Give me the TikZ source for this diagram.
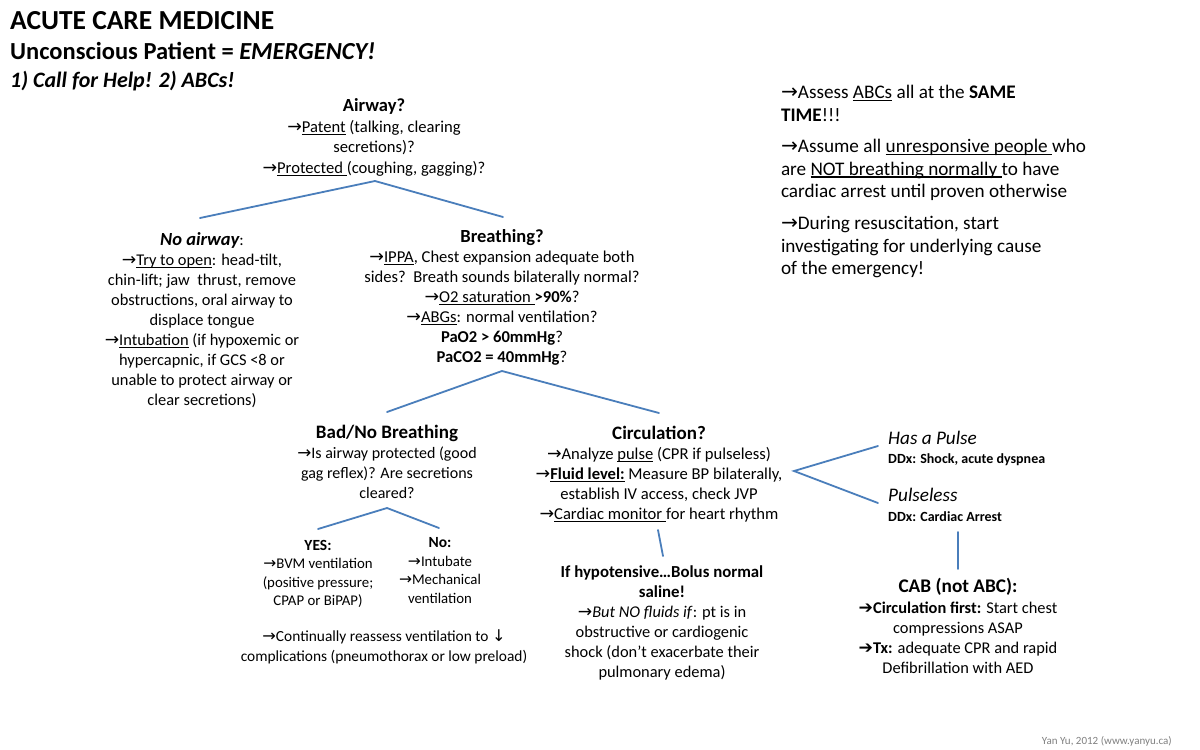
\documentclass[tikz,border=0pt]{standalone}
\usepackage{fontspec}
\setmainfont{Carlito}
\newfontfamily\symf[Scale=1.05]{DejaVu Sans}
\newcommand\rarr{{\symf →}}
\newcommand\harr{{\symf ➔}}
\newcommand\darr{{\symf ↓}}
\newcommand\hd[1]{{\fontsize{18.5}{20}\selectfont\bfseries #1}}
\newsavebox\ulbox
\newcommand\ul[1]{\sbox\ulbox{#1}\rlap{\rule[-0.14em]{\wd\ulbox}{0.07em}}\usebox\ulbox}
\definecolor{linkblue}{HTML}{4A7EBB}
\definecolor{footgray}{HTML}{808080}
\tikzset{
  txt/.style={inner sep=0pt, outer sep=0pt, align=center, execute at begin node=\strut},
  body/.style={txt, font=\fontsize{16.6}{20}\selectfont},
  small/.style={txt, font=\fontsize{14.8}{18.5}\selectfont},
  note/.style={txt, align=left, anchor=north west, font=\fontsize{19.2}{22.8}\selectfont},
  side/.style={inner sep=0pt, anchor=base west},
  link/.style={draw=linkblue, line width=1.8pt, line cap=round},
}
\begin{document}
\begin{tikzpicture}[x=1pt,y=-1pt]
\useasboundingbox (0,0) rectangle (1200,750);
\fill[white] (0,0) rectangle (1200,750);

% titles
\node[side, font=\fontsize{27.5}{30}\selectfont\bfseries] (title) at (10,29) {ACUTE CARE MEDICINE};
\node[side, font=\fontsize{24.5}{27}\selectfont\bfseries] (sub) at (10,59.5) {Unconscious Patient = \textit{EMERGENCY!}};
\node[side, font=\fontsize{22}{24}\selectfont\bfseries\itshape] (call) at (10,87.5) {1) Call for Help! 2) ABCs!};

% airway
\node[body, font=\fontsize{16.6}{20.5}\selectfont, anchor=north] (airway) at (374,99) {\hd{Airway?}\\ \rarr\ul{Patent} (talking, clearing\\ secretions)?\\ \rarr\ul{Protected\ }(coughing, gagging)?};

\node[body, font=\fontsize{16.4}{20}\selectfont, anchor=north] (noair) at (202,233) {\hd{\itshape No airway}:\\ \rarr\ul{Try to open}: head-tilt,\\ chin-lift; jaw\ \ thrust, remove\\ obstructions, oral airway to\\ displace tongue\\ \rarr\ul{Intubation} (if hypoxemic or\\ hypercapnic, if GCS <8 or\\ unable to protect airway or\\ clear secretions)};

\node[body, anchor=north] (breath) at (502,229.5) {\hd{Breathing?}\\ \rarr\ul{IPPA}, Chest expansion adequate both\\ sides?\ \ Breath sounds bilaterally normal?\\ \rarr\ul{O2 saturation\ }\textbf{>90\%}?\\ \rarr\ul{ABGs}: normal ventilation?\\ \textbf{PaO2 > 60mmHg}?\\ \textbf{PaCO2 = 40mmHg}?};

\node[body, font=\fontsize{16}{20}\selectfont, anchor=north] (bad) at (387,425) {{\fontsize{19}{20}\selectfont\bfseries Bad/No Breathing}\\ \rarr Is airway protected (good\\ gag reflex)? Are secretions\\ cleared?};

\node[small, anchor=north] (yes) at (318,540) {{\fontsize{15.5}{18.5}\selectfont\bfseries YES:}\\ \rarr BVM ventilation\\ (positive pressure;\\ CPAP or BiPAP)};
\node[small, anchor=north] (no) at (440,537.5) {{\fontsize{15.5}{18.5}\selectfont\bfseries No:}\\ \rarr Intubate\\ \rarr Mechanical\\ ventilation};
\node[txt, font=\fontsize{15.4}{20}\selectfont, anchor=north] (reassess) at (384,629.5) {\rarr Continually reassess ventilation to \darr\\ complications (pneumothorax or low preload)};

\node[body, anchor=north] (circ) at (659,426) {{\fontsize{19}{20}\selectfont\bfseries Circulation?}\\ \rarr Analyze \ul{pulse} (CPR if pulseless)\\ \rarr\ul{\textbf{Fluid level:}} Measure BP bilaterally,\\ establish IV access,\ check JVP\\ \rarr\ul{Cardiac monitor\ }for heart rhythm};

\node[body, font=\fontsize{16.4}{20}\selectfont, anchor=north] (hypo) at (662,565.5) {{\fontsize{16.8}{20}\selectfont\bfseries If hypotensive…Bolus normal}\\ {\fontsize{16.8}{20}\selectfont\bfseries saline!}\\ \rarr\textit{But NO fluids if}: pt is in\\ obstructive or cardiogenic\\ shock (don’t exacerbate their\\ pulmonary edema)};

\node[side, font=\fontsize{19.2}{22}\selectfont\itshape] (haspulse) at (888,444) {Has a Pulse};
\node[side, font=\fontsize{14}{18}\selectfont\bfseries] (ddx1) at (888,463) {DDx: Shock, acute dyspnea};
\node[side, font=\fontsize{19.2}{22}\selectfont\itshape] (pulseless) at (888,501) {Pulseless};
\node[side, font=\fontsize{14}{18}\selectfont\bfseries] (ddx2) at (888,521) {DDx: Cardiac Arrest};

\node[inner sep=0pt, anchor=base, font=\fontsize{19.3}{22}\selectfont\bfseries] (cab) at (958,592) {CAB (not ABC):};
\node[txt, font=\fontsize{16.4}{20}\selectfont, anchor=north] (cabbody) at (958,602) {\harr\textbf{Circulation first:} Start chest\\ compressions ASAP\\ \harr\textbf{Tx:} adequate CPR and rapid\\ Defibrillation with AED};

% right notes
\node[note] (n1) at (781,85) {\rarr Assess \ul{ABCs} all at the \textbf{SAME}\\ \textbf{TIME}!!!};
\node[note] (n2) at (781,139) {\rarr Assume all \ul{unresponsive people\ }who\\ are \ul{NOT breathing normally\ }to have\\ cardiac arrest until proven otherwise};
\node[note] (n3) at (781,216) {\rarr During resuscitation, start\\ investigating for underlying cause\\ of the emergency!};

\node[inner sep=0pt, anchor=base east, font=\fontsize{11}{13}\selectfont, text=footgray] (foot) at (1172,744) {Yan Yu, 2012 (www.yanyu.ca)};

% connectors
\coordinate (a0) at (375,181); \coordinate (a1) at (200,218); \coordinate (a2) at (503,217);
\coordinate (b0) at (502,371); \coordinate (b1) at (387,412); \coordinate (b2) at (659,413);
\coordinate (c0) at (387,508); \coordinate (c1) at (318,529); \coordinate (c2) at (439,528);
\coordinate (d0) at (794,471); \coordinate (d1) at (878,446); \coordinate (d2) at (878,503);
\coordinate (e1) at (658,530); \coordinate (e2) at (663,556);
\coordinate (f1) at (958,532); \coordinate (f2) at (958,569);
\draw[link] (a1) -- (a0) -- (a2);
\draw[link] (b1) -- (b0) -- (b2);
\draw[link] (c1) -- (c0) -- (c2);
\draw[link] (d1) -- (d0) -- (d2);
\draw[link] (e1) -- (e2);
\draw[link] (f1) -- (f2);
\end{tikzpicture}
\end{document}
